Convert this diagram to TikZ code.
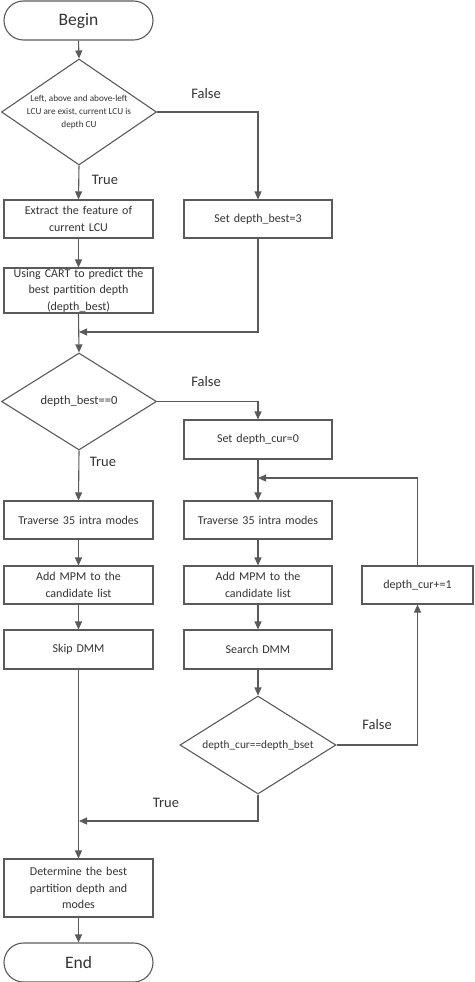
\documentclass[tikz,border=0pt]{standalone}
\usepackage{fontspec}
\setmainfont{Carlito}
\usetikzlibrary{shapes.geometric,shapes.misc,arrows.meta}
\definecolor{ln}{HTML}{5A5A5A}
\definecolor{tx}{HTML}{333333}
\begin{document}
\begin{tikzpicture}[x=1pt,y=-1pt,
  every node/.style={text=tx},
  term/.style={rounded rectangle,draw=ln,line width=1.1pt,minimum width=149pt,minimum height=39pt,inner sep=0pt,font=\fontsize{17.5}{21}\selectfont},
  box/.style={rectangle,draw=ln,line width=1.1pt,minimum width=149pt,inner sep=0pt,text width=146pt,align=center,font=\fontsize{12}{16.3}\selectfont},
  dia/.style={diamond,draw=ln,line width=1.1pt,inner sep=0pt},
  lab/.style={font=\fontsize{14.5}{17}\selectfont},
  arr/.style={draw=ln,line width=1.1pt,-{Triangle[length=8pt,width=7pt]}},
  ln/.style={draw=ln,line width=1.1pt}]
\useasboundingbox (0,0) rectangle (474,982);
\node[term] (begin) at (78.5,20.5) {Begin};
\node[dia,minimum width=155pt,minimum height=106pt] (d1) at (79,112) {};
\node[align=center,font=\fontsize{9.2}{13}\selectfont] (d1t) at (79,112) {Left, above and above-left\\LCU are exist, current LCU is\\depth CU};
\node[box,minimum height=38pt] (extract) at (78.5,219) {Extract the feature of\\current LCU};
\node[box,minimum height=38pt,minimum width=148pt] (setbest) at (258,219) {Set depth\_best=3};
\node[box,minimum height=45pt] (cart) at (78.5,290.5) {Using CART to predict the\\best partition depth\\(depth\_best)};
\coordinate (m1) at (79,332);
\node[dia,minimum width=155pt,minimum height=97pt] (d2) at (79,401.5) {};
\node[font=\fontsize{12.5}{15}\selectfont] (d2t) at (79,401.5) {depth\_best==0};
\node[box,minimum height=39pt,minimum width=148pt] (setcur) at (258,439.5) {Set depth\_cur=0};
\coordinate (loop) at (258,478);
\node[box,minimum height=38pt] (trav1) at (78.5,520) {Traverse 35 intra modes};
\node[box,minimum height=38pt,minimum width=148pt] (trav2) at (258,520) {Traverse 35 intra modes};
\node[box,minimum height=38pt] (mpm1) at (78.5,585) {Add MPM to the\\candidate list};
\node[box,minimum height=38pt,minimum width=148pt] (mpm2) at (258,585) {Add MPM to the\\candidate list};
\node[box,minimum height=38pt,minimum width=111pt,text width=108pt] (inc) at (417.5,585) {depth\_cur+=1};
\node[box,minimum height=39pt] (skip) at (78.5,649.5) {Skip DMM};
\node[box,minimum height=39pt,minimum width=148pt] (search) at (258,649.5) {Search DMM};
\node[dia,minimum width=156pt,minimum height=98pt] (d3) at (258,745) {};
\node[font=\fontsize{11.3}{14}\selectfont] (d3t) at (258,745) {depth\_cur==depth\_bset};
\coordinate (m2) at (79,821);
\node[box,minimum height=58pt] (det) at (78.5,888) {Determine the best\\partition depth and\\modes};
\node[term] (end) at (78.5,962.5) {End};
% labels
\node[lab] (f1) at (206,94) {False};
\node[lab] (t1) at (105,180) {True};
\node[lab] (f2) at (206,382) {False};
\node[lab] (t2) at (103,462) {True};
\node[lab] (f3) at (377,725) {False};
\node[lab] (t3) at (166,803) {True};
% connectors
\draw[arr] (begin.south) -- (d1.north);
\draw[arr] (d1.south) -- (extract.north);
\draw[arr] (d1.east) -| (setbest.north);
\draw[arr] (extract.south) -- (cart.north);
\draw[arr] (setbest.south) |- (m1);
\draw[arr] (cart.south) -- (d2.north);
\draw[arr] (d2.east) -| (setcur.north);
\draw[arr] (d2.south) -- (trav1.north);
\draw[arr] (setcur.south) -- (trav2.north);
\draw[arr] (inc.north) |- (loop);
\draw[arr] (trav1.south) -- (mpm1.north);
\draw[arr] (mpm1.south) -- (skip.north);
\draw[arr] (trav2.south) -- (mpm2.north);
\draw[arr] (mpm2.south) -- (search.north);
\draw[arr] (search.south) -- (d3.north);
\draw[arr] (d3.east) -| (inc.south);
\draw[arr] (d3.south) |- (m2);
\draw[arr] (skip.south) -- (det.north);
\draw[arr] (det.south) -- (end.north);
\end{tikzpicture}
\end{document}
